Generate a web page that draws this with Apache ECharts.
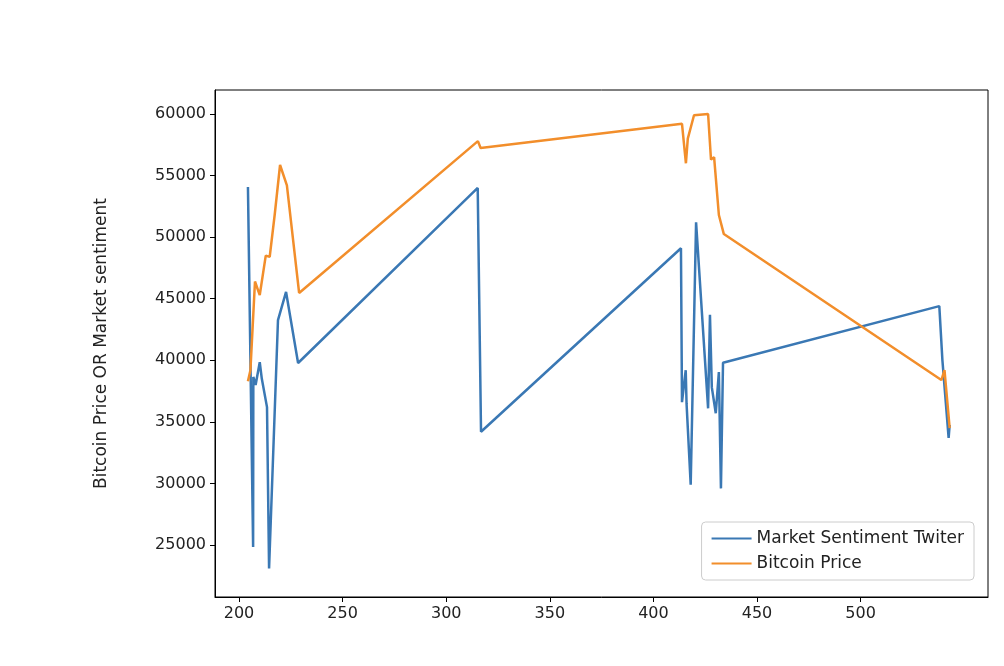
<!DOCTYPE html>
<html>
<head>
<meta charset="utf-8">
<script src="https://cdn.jsdelivr.net/npm/echarts@6/dist/echarts.min.js"></script>
<style>body{margin:0;background:#fff}#chart{width:1004px;height:666px}</style>
</head>
<body>
<div id="chart"></div>
<script>
// 市场情绪
var sentX = [204.3, 205.2, 206.8, 206.9, 208, 210, 211, 213.5, 214.5, 218.8, 222.7, 228.5, 315.2, 316.8, 413.3, 413.8, 415.6, 416, 418, 420.6, 426.4, 427.3, 428.2, 430.1, 431.6, 432.6, 433.6, 538, 539.5, 542.5, 543];
var sentY = [54070, 54000, 24840, 38650, 38000, 39850, 38500, 36200, 23100, 43270, 45550, 39780, 54000, 34200, 49100, 36600, 39200, 36500, 29900, 51200, 36100, 43700, 37800, 35700, 39050, 29600, 39800, 44400, 40000, 33700, 34750];
// 比特币价格
var priceX = [204.3, 205.5, 207.7, 210, 212.9, 214.8, 217.2, 219.8, 223.1, 229, 315.3, 316.6, 413.8, 415.7, 416.6, 419.6, 426.4, 427.8, 429.3, 431.6, 434, 539, 540.5, 543];
var priceY = [38300, 39200, 46400, 45300, 48500, 48400, 51800, 55860, 54200, 45470, 57800, 57240, 59200, 56000, 58000, 59900, 60000, 56300, 56500, 51800, 50250, 38400, 39200, 34500];
var xTicks = [200, 250, 300, 350, 400, 450, 500];
var yTicks = [25000, 30000, 35000, 40000, 45000, 50000, 55000, 60000];

function pairs(xs, ys) {
	return xs.map(function(x, i) { return [x, ys[i]]; });
}
function plain(v) { return String(v); }

var myChart = echarts.init(document.getElementById('chart'));
var txt = {color: '#222', fontSize: 17, fontFamily: 'DejaVu Sans'};
myChart.setOption({
	animation: false,
	grid: {left: 215, right: 16, top: 90, bottom: 69, show: true, borderColor: '#000', borderWidth: 1},
	legend: {
		right: 30, bottom: 86, orient: 'vertical', itemGap: 8,
		itemWidth: 40, itemHeight: 2, icon: 'rect',
		padding: [8, 10], borderColor: '#ccc', borderWidth: 1, borderRadius: 4,
		textStyle: txt,
		data: ['Market Sentiment Twiter', 'Bitcoin Price']
	},
	xAxis: {
		type: 'value', min: 188.4, max: 561.5,
		axisLine: {show: true, onZero: false, lineStyle: {color: '#000'}},
		axisTick: {show: true, customValues: xTicks, length: 5, lineStyle: {color: '#000'}},
		axisLabel: {customValues: xTicks, formatter: plain, margin: 9, color: '#222', fontSize: 16, fontFamily: 'DejaVu Sans'},
		splitLine: {show: false}
	},
	yAxis: {
		type: 'value', min: 20780, max: 61950,
		name: 'Bitcoin Price OR Market sentiment', nameLocation: 'middle', nameGap: 105,
		nameTextStyle: txt,
		axisLine: {show: true, lineStyle: {color: '#000'}},
		axisTick: {show: true, customValues: yTicks, length: 5, lineStyle: {color: '#000'}},
		axisLabel: {customValues: yTicks, formatter: plain, margin: 9, color: '#222', fontSize: 16, fontFamily: 'DejaVu Sans'},
		splitLine: {show: false}
	},
	series: [{
		name: 'Market Sentiment Twiter', type: 'line', showSymbol: false,
		color: '#3a78b4', lineStyle: {width: 2.5}, data: pairs(sentX, sentY)
	}, {
		name: 'Bitcoin Price', type: 'line', showSymbol: false,
		color: '#f28e2b', lineStyle: {width: 2.5}, data: pairs(priceX, priceY)
	}]
});
</script>
</body>
</html>
